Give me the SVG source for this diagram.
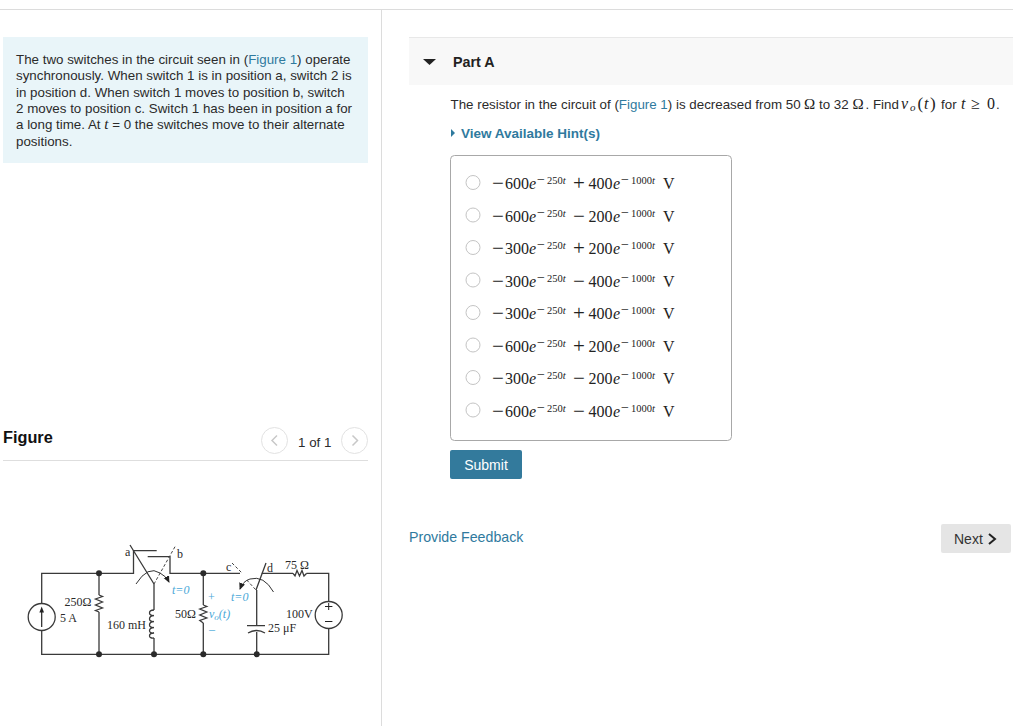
<svg xmlns="http://www.w3.org/2000/svg" width="1024" height="726" viewBox="0 0 1024 726">
<style>
text{font-family:"Liberation Sans",Arial,sans-serif;font-size:13.35px;fill:#2b2b2b}
.link{fill:#2f7a9e}
.b{font-weight:bold}
.m{font-family:"Liberation Serif","Times New Roman",serif;font-size:16px;fill:#222}
.i{font-style:italic}
.s{font-size:10.5px}
.n{font-size:14px}
.o{font-size:21px}
.c{font-family:"Liberation Serif","Times New Roman",serif;font-size:12px;fill:#2a2a2a}
.bl{fill:#4aa8d8}
.w{fill:none;stroke:#3a3a3a;stroke-width:1.3}
.d{fill:none;stroke:#444;stroke-width:1;stroke-dasharray:3 2}
.j{fill:#2a2a2a}
.r{fill:#fff;stroke:#c4c4c4;stroke-width:1}
</style>
<defs>
<marker id="ah" markerWidth="8" markerHeight="8" refX="6" refY="3" orient="auto"><path d="M0 0L7 3L0 6z" fill="#222"/></marker>
</defs>
<rect width="1024" height="726" fill="#fff"/>
<g id="frame">
<path d="M0 9.5H1013M381.500 10V726" fill="none" stroke="#dcdcdc"/>
</g>
<g id="statement">
<rect x="3" y="37" width="365" height="126" fill="#e9f5f9"/>
<text x="16" y="64">The two switches in the circuit seen in (<tspan class="link">Figure 1</tspan>) operate</text>
<text x="16" y="80">synchronously. When switch 1 is in position a, switch 2 is</text>
<text x="16" y="97">in position d. When switch 1 moves to position b, switch</text>
<text x="16" y="113">2 moves to position c. Switch 1 has been in position a for</text>
<text x="16" y="129">a long time. At <tspan class="m i" style="font-size:15px">t</tspan> = 0 the switches move to their alternate</text>
<text x="16" y="146">positions.</text>
</g>
<g id="figure-header">
<text x="3" y="443" class="b" style="font-size:16.3px;fill:#111">Figure</text>
<circle cx="274.500" cy="440.500" r="13" fill="#fff" stroke="#e2e2e2"/>
<path d="M277 435.500L272 440.500L277 445.500" fill="none" stroke="#c8c8c8" stroke-width="1.500"/>
<text x="298" y="447">1 of 1</text>
<circle cx="354.500" cy="440.500" r="13" fill="#fff" stroke="#e2e2e2"/>
<path d="M352.500 435.500L357.500 440.500L352.500 445.500" fill="none" stroke="#c8c8c8" stroke-width="1.500"/>
<path d="M3 460.500H368" stroke="#dedede" fill="none"/>
</g>
<g id="connectors">
<path class="w" d="M41.700 603.500V573.300H133.500V550.700H156.700"/>
<path class="w" d="M41.700 630.500V654.300H328.700V628.500M328.700 601.500V573.300H306.700M293 573.300H261.700M147.700 556.700H170V573.300H240"/>
<path class="w" d="M99 573.300V595M99 612V654.300M154 584V610M154 638V654.300M203.300 573.300V605M203.300 623V654.300M256.700 590V625.700M256.700 632V654.300"/>
<path class="w" d="M130 545L154 584M266 563L256 590"/>
<path class="d" d="M175 546.700L154 584M232 563L242 573M246.700 580L256 590"/>
<path fill="none" stroke="#333" stroke-width="1" d="M136 584Q148 565 160 573Q166 576 169 582" marker-end="url(#ah)"/>
<path fill="none" stroke="#333" stroke-width="1" d="M273.500 592Q264 575 250 579Q243 581 240 589" marker-end="url(#ah)"/>
</g>
<g id="source-5A">
<circle cx="41.700" cy="617" r="13.500" fill="#fff" stroke="#3a3a3a" stroke-width="1.300"/>
<path d="M41.700 627V610" stroke="#222" stroke-width="1.200" fill="none"/>
<path d="M41.700 606.500L39.400 612.500H44z" fill="#222"/>
<text x="60" y="622" class="c">5 A</text>
</g>
<g id="resistor-250">
<path class="w" d="M99 595L102.500 596.500L95.500 599L102.500 602L95.500 605L102.500 608L95.500 610.500L99 612"/>
<text x="64.500" y="606" class="c">250Ω</text>
<circle class="j" cx="99" cy="573.300" r="3"/><circle class="j" cx="99" cy="654.300" r="3"/>
</g>
<g id="inductor">
<path class="w" d="M154 610C148 610 148 616 154 615.500C148 616 148 622 154 621.500C148 622 148 628 154 627.500C148 628 148 634 154 633C148 633 148 639 154 638"/>
<text x="107" y="629" class="c">160 mH</text>
<circle class="j" cx="154" cy="654.300" r="3"/>
</g>
<g id="resistor-50">
<path class="w" d="M203.300 605L206.800 606.500L199.800 609L206.800 612L199.800 615L206.800 618L199.800 620.500L203.300 623"/>
<text x="175" y="618" class="c">50Ω</text>
<text x="208" y="601" class="c bl">+</text>
<text x="209" y="618" class="c bl i">v<tspan style="font-size:9px" dy="2">o</tspan><tspan dy="-2">(t)</tspan></text>
<text x="209" y="633" class="c bl">–</text>
<circle class="j" cx="203.300" cy="573.300" r="3"/><circle class="j" cx="203.300" cy="654.300" r="3"/>
</g>
<g id="capacitor">
<path class="w" d="M247 625.700H265M248 633Q256.700 628 265 633"/>
<text x="268" y="632" class="c">25 μF</text>
<circle class="j" cx="256.700" cy="654.300" r="3"/>
</g>
<g id="resistor-75">
<path class="w" d="M293 573.300L295 576L297 570.500L299.500 576L302 570.500L304 576L306.700 573.300"/>
<text x="285" y="569" class="c">75 Ω</text>
</g>
<g id="source-100V">
<circle cx="328.700" cy="615" r="13.500" fill="#fff" stroke="#3a3a3a" stroke-width="1.300"/>
<path d="M325 606.500H332.400M328.700 603V610M325 621.500H332.400" stroke="#222" fill="none"/>
<text x="286" y="618" class="c">100V</text>
</g>
<g id="switch-labels">
<text x="125" y="556" class="c">a</text>
<text x="177" y="558" class="c">b</text>
<text x="226" y="571" class="c">c</text>
<text x="267" y="572" class="c">d</text>
<text x="172" y="594" class="c bl i">t=0</text>
<text x="231" y="601" class="c bl i">t=0</text>
</g>
<g id="part-a">
<rect x="409" y="37" width="604" height="48" fill="#f8f8f8"/>
<path d="M409 37.500H1013" stroke="#e8e8e8" fill="none"/>
<path d="M423 59H436L429.500 65z" fill="#222"/>
<text x="453" y="67" class="b" style="fill:#222;font-size:14.3px">Part A</text>
<text x="450.500" y="109">The resistor in the circuit of (<tspan class="link">Figure 1</tspan>) is decreased from 50<tspan class="m" x="804" style="font-size:15px">Ω</tspan><tspan x="819">to 32</tspan><tspan class="m" x="852.500" style="font-size:15px">Ω</tspan><tspan x="865.500">. Find</tspan><tspan class="m i" x="901">v</tspan><tspan class="m i" x="910" dy="2" style="font-size:11px">o</tspan><tspan class="m" x="917.500" dy="-2" style="font-size:17px">(</tspan><tspan class="m i" x="924">t</tspan><tspan class="m" x="930" style="font-size:17px">)</tspan><tspan x="941">for</tspan><tspan class="m i" x="961">t</tspan><tspan class="m" x="971">≥</tspan><tspan class="m" x="987">0</tspan><tspan x="996">.</tspan></text>
<path d="M451 129L455 133L451 137z" fill="#2f7a9e"/>
<text x="461" y="138" class="b link" style="font-size:13.5px">View Available Hint(s)</text>
</g>
<g id="answers">
<rect x="450.500" y="155.500" width="281" height="285" rx="4" fill="#fff" stroke="#a8a8a8"/>
<circle class="r" cx="473" cy="182.500" r="7"/>
<circle class="r" cx="473" cy="215" r="7"/>
<circle class="r" cx="473" cy="247.500" r="7"/>
<circle class="r" cx="473" cy="280" r="7"/>
<circle class="r" cx="473" cy="312.500" r="7"/>
<circle class="r" cx="473" cy="345" r="7"/>
<circle class="r" cx="473" cy="377.500" r="7"/>
<circle class="r" cx="473" cy="410" r="7"/>
<text class="m" y="189"><tspan class="o" x="492" dy="1">−</tspan><tspan x="505" dy="-1">600</tspan><tspan class="i" x="529">e</tspan><tspan class="n" x="537" dy="-5">−</tspan><tspan class="s" x="547">250<tspan class="i">t</tspan></tspan><tspan class="o" x="573" dy="6">+</tspan><tspan x="588.500" dy="-1">400</tspan><tspan class="i" x="613">e</tspan><tspan class="n" x="621" dy="-5">−</tspan><tspan class="s" x="631">1000<tspan class="i">t</tspan></tspan><tspan x="663" dy="5">V</tspan></text>
<text class="m" y="222"><tspan class="o" x="492" dy="1">−</tspan><tspan x="505" dy="-1">600</tspan><tspan class="i" x="529">e</tspan><tspan class="n" x="537" dy="-5">−</tspan><tspan class="s" x="547">250<tspan class="i">t</tspan></tspan><tspan class="o" x="573" dy="6">−</tspan><tspan x="588.500" dy="-1">200</tspan><tspan class="i" x="613">e</tspan><tspan class="n" x="621" dy="-5">−</tspan><tspan class="s" x="631">1000<tspan class="i">t</tspan></tspan><tspan x="663" dy="5">V</tspan></text>
<text class="m" y="254"><tspan class="o" x="492" dy="1">−</tspan><tspan x="505" dy="-1">300</tspan><tspan class="i" x="529">e</tspan><tspan class="n" x="537" dy="-5">−</tspan><tspan class="s" x="547">250<tspan class="i">t</tspan></tspan><tspan class="o" x="573" dy="6">+</tspan><tspan x="588.500" dy="-1">200</tspan><tspan class="i" x="613">e</tspan><tspan class="n" x="621" dy="-5">−</tspan><tspan class="s" x="631">1000<tspan class="i">t</tspan></tspan><tspan x="663" dy="5">V</tspan></text>
<text class="m" y="287"><tspan class="o" x="492" dy="1">−</tspan><tspan x="505" dy="-1">300</tspan><tspan class="i" x="529">e</tspan><tspan class="n" x="537" dy="-5">−</tspan><tspan class="s" x="547">250<tspan class="i">t</tspan></tspan><tspan class="o" x="573" dy="6">−</tspan><tspan x="588.500" dy="-1">400</tspan><tspan class="i" x="613">e</tspan><tspan class="n" x="621" dy="-5">−</tspan><tspan class="s" x="631">1000<tspan class="i">t</tspan></tspan><tspan x="663" dy="5">V</tspan></text>
<text class="m" y="319"><tspan class="o" x="492" dy="1">−</tspan><tspan x="505" dy="-1">300</tspan><tspan class="i" x="529">e</tspan><tspan class="n" x="537" dy="-5">−</tspan><tspan class="s" x="547">250<tspan class="i">t</tspan></tspan><tspan class="o" x="573" dy="6">+</tspan><tspan x="588.500" dy="-1">400</tspan><tspan class="i" x="613">e</tspan><tspan class="n" x="621" dy="-5">−</tspan><tspan class="s" x="631">1000<tspan class="i">t</tspan></tspan><tspan x="663" dy="5">V</tspan></text>
<text class="m" y="352"><tspan class="o" x="492" dy="1">−</tspan><tspan x="505" dy="-1">600</tspan><tspan class="i" x="529">e</tspan><tspan class="n" x="537" dy="-5">−</tspan><tspan class="s" x="547">250<tspan class="i">t</tspan></tspan><tspan class="o" x="573" dy="6">+</tspan><tspan x="588.500" dy="-1">200</tspan><tspan class="i" x="613">e</tspan><tspan class="n" x="621" dy="-5">−</tspan><tspan class="s" x="631">1000<tspan class="i">t</tspan></tspan><tspan x="663" dy="5">V</tspan></text>
<text class="m" y="384"><tspan class="o" x="492" dy="1">−</tspan><tspan x="505" dy="-1">300</tspan><tspan class="i" x="529">e</tspan><tspan class="n" x="537" dy="-5">−</tspan><tspan class="s" x="547">250<tspan class="i">t</tspan></tspan><tspan class="o" x="573" dy="6">−</tspan><tspan x="588.500" dy="-1">200</tspan><tspan class="i" x="613">e</tspan><tspan class="n" x="621" dy="-5">−</tspan><tspan class="s" x="631">1000<tspan class="i">t</tspan></tspan><tspan x="663" dy="5">V</tspan></text>
<text class="m" y="417"><tspan class="o" x="492" dy="1">−</tspan><tspan x="505" dy="-1">600</tspan><tspan class="i" x="529">e</tspan><tspan class="n" x="537" dy="-5">−</tspan><tspan class="s" x="547">250<tspan class="i">t</tspan></tspan><tspan class="o" x="573" dy="6">−</tspan><tspan x="588.500" dy="-1">400</tspan><tspan class="i" x="613">e</tspan><tspan class="n" x="621" dy="-5">−</tspan><tspan class="s" x="631">1000<tspan class="i">t</tspan></tspan><tspan x="663" dy="5">V</tspan></text>
</g>
<g id="submit">
<rect x="450" y="450" width="72" height="29" rx="2" fill="#337a9c"/>
<text x="486" y="470" text-anchor="middle" style="fill:#fff;font-size:14px">Submit</text>
</g>
<g id="feedback">
<text x="409" y="542" class="link" style="font-size:14.2px">Provide Feedback</text>
</g>
<g id="next">
<rect x="941" y="524" width="70" height="29" rx="2" fill="#e5e5e5"/>
<text x="954" y="544" style="font-size:14px;fill:#333">Next</text>
<path d="M989 534L995 539L989 544" fill="none" stroke="#222" stroke-width="2"/>
</g>
</svg>
